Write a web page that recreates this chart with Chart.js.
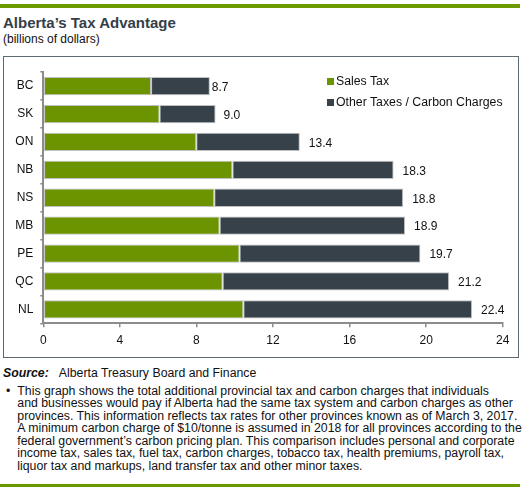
<!DOCTYPE html>
<html>
<head>
<meta charset="utf-8">
<script src="https://cdn.jsdelivr.net/npm/chart.js@4"></script>
<style>
html,body{margin:0;padding:0;background:#fff;}
body{width:531px;height:492px;position:relative;overflow:hidden;font-family:"Liberation Sans",Arial,sans-serif;color:#111;}
.rule{position:absolute;left:0;width:520px;background:#6a9a00;}
#title{position:absolute;left:3px;top:15px;font-size:15px;line-height:15px;font-weight:bold;color:#333e48;white-space:nowrap;}
#subtitle{position:absolute;left:3px;top:32.5px;font-size:12px;line-height:12px;color:#111;white-space:nowrap;}
#box{position:absolute;left:2.5px;top:56px;width:516.5px;height:302px;border:1.5px solid #5d6a72;box-sizing:border-box;}
#chartWrap{position:absolute;left:4px;top:58px;width:513px;height:298px;}
#legend{position:absolute;left:327px;top:74px;font-size:12.3px;line-height:14px;color:#111;}
#legend .item{position:relative;height:14px;margin-bottom:7px;white-space:nowrap;padding-left:9px;}
#legend .sw{position:absolute;left:0;top:3.5px;width:7px;height:7px;}
#source{position:absolute;left:3px;top:367px;font-size:12.3px;line-height:12.3px;white-space:nowrap;}
#source b{font-style:italic;margin-right:10px;}
#note{position:absolute;left:17.3px;top:384.5px;font-size:12.3px;line-height:12.5px;white-space:nowrap;}
#bullet{position:absolute;left:6px;top:384.5px;font-size:12.3px;line-height:12.5px;}
</style>
</head>
<body>
<div class="rule" style="top:4px;height:3.6px;"></div>
<div id="title">Alberta’s Tax Advantage</div>
<div id="subtitle">(billions of dollars)</div>
<div id="box"></div>
<div id="chartWrap"><canvas id="c" width="513" height="298" style="width:513px;height:298px;"></canvas></div>
<div id="legend"></div>
<div id="source"><b>Source:</b>Alberta Treasury Board and Finance</div>
<div id="bullet">•</div>
<div id="note">This graph shows the total additional provincial tax and carbon charges that individuals<br>and businesses would pay if Alberta had the same tax system and carbon charges as other<br>provinces. This information reflects tax rates for other provinces known as of March 3, 2017.<br>A minimum carbon charge of $10/tonne is assumed in 2018 for all provinces according to the<br>federal government’s carbon pricing plan. This comparison includes personal and corporate<br>income tax, sales tax, fuel tax, carbon charges, tobacco tax, health premiums, payroll tax,<br>liquor tax and markups, land transfer tax and other minor taxes.</div>
<div class="rule" style="top:484px;height:3px;"></div>
<script>
// ---- data ----
const provinces = ['BC', 'SK', 'ON', 'NB', 'NS', 'MB', 'PE', 'QC', 'NL'];
const salesTax = [5.63, 6.07, 7.99, 9.88, 8.93, 9.21, 10.25, 9.37, 10.45];
const otherTaxes = [3.07, 2.93, 5.41, 8.42, 9.87, 9.69, 9.45, 11.83, 11.95];
const totalLabels = ['8.7', '9.0', '13.4', '18.3', '18.8', '18.9', '19.7', '21.2', '22.4'];
const xTicks = [0, 4, 8, 12, 16, 20, 24];
const seriesNames = ['Sales Tax', 'Other Taxes / Carbon Charges'];

// ---- style ----
const colors = ['#6b9400', '#36414a'];
const labelGap = [2, 8, 9, 9, 9, 9, 9, 9, 9];
const FONT = '"Liberation Sans", Arial, sans-serif';
const AXIS = '#8c8c8c';

const totalsPlugin = {
  id: 'totals',
  afterDatasetsDraw(chart) {
    const ctx = chart.ctx;
    const meta = chart.getDatasetMeta(1);
    ctx.save();
    ctx.font = '12px ' + FONT;
    ctx.fillStyle = '#111';
    ctx.textBaseline = 'middle';
    ctx.textAlign = 'left';
    meta.data.forEach((bar, i) => {
      ctx.fillText(totalLabels[i], bar.x + labelGap[i], bar.y + 1.5);
    });
    ctx.restore();
  }
};

const chart = new Chart(document.getElementById('c'), {
  type: 'bar',
  data: {
    labels: provinces,
    datasets: [
      { label: seriesNames[0], data: salesTax, backgroundColor: colors[0] },
      { label: seriesNames[1], data: otherTaxes, backgroundColor: colors[1] }
    ]
  },
  options: {
    indexAxis: 'y',
    responsive: false,
    animation: false,
    devicePixelRatio: 1,
    layout: { padding: { top: 8.7, right: 14.3, left: 0, bottom: 0 } },
    datasets: {
      bar: {
        categoryPercentage: 1,
        barPercentage: 0.655,
        borderWidth: 1,
        borderColor: 'rgba(185,185,185,0.9)',
        borderSkipped: false
      }
    },
    plugins: { legend: { display: false }, tooltip: { enabled: false }, title: { display: false } },
    scales: {
      x: {
        stacked: true,
        min: 0, max: 24,
        afterBuildTicks(scale) { scale.ticks = xTicks.map(v => ({ value: v })); },
        afterFit(scale) { scale.height = 32.7; },
        ticks: { color: '#111', font: { family: FONT, size: 12 }, padding: 6, maxRotation: 0 },
        grid: { display: true, drawOnChartArea: false, drawTicks: true, tickLength: 4, color: AXIS, lineWidth: 1.5 },
        border: { display: true, color: AXIS, width: 2 }
      },
      y: {
        stacked: true,
        afterFit(scale) { scale.width = 39.3; },
        ticks: { color: '#111', font: { family: FONT, size: 12 }, padding: 7 },
        grid: { display: true, drawOnChartArea: false, drawTicks: true, tickLength: 3, color: AXIS, lineWidth: 1.5, offset: true },
        border: { display: true, color: AXIS, width: 2 }
      }
    }
  },
  plugins: [totalsPlugin]
});

// HTML legend from dataset definitions
const legend = document.getElementById('legend');
chart.data.datasets.forEach(ds => {
  const item = document.createElement('div');
  item.className = 'item';
  const sw = document.createElement('span');
  sw.className = 'sw';
  sw.style.background = ds.backgroundColor;
  item.appendChild(sw);
  item.appendChild(document.createTextNode(ds.label));
  legend.appendChild(item);
});
</script>
</body>
</html>
